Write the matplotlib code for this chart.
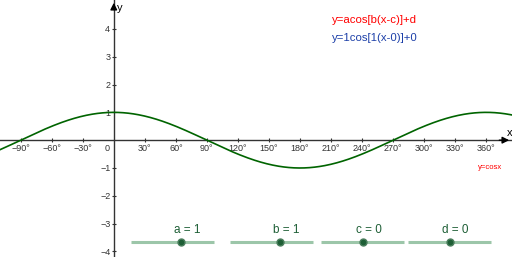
import numpy as np
import matplotlib.pyplot as plt

plt.rcParams['font.family'] = ['Liberation Sans', 'DejaVu Sans']

# parameters of y = a cos[b(x - c)] + d
a, b, c, d = 1, 1, 0, 0
x_ticks = [-90, -60, -30, 30, 60, 90, 120, 150, 180, 210, 240, 270, 300, 330, 360]
y_ticks = [-4, -3, -2, -1, 1, 2, 3, 4]
slider_names = ['a', 'b', 'c', 'd']
slider_values = [a, b, c, d]
slider_pos = [0.6, 0.6, 0.5, 0.5]   # where the knob sits on each slider

fig = plt.figure(figsize=(5.12, 2.57), dpi=100)
ax = fig.add_axes([0, 0, 1, 1])
ax.set_xlim(-110, 385)
ax.set_ylim(-4.2, 5.04)

xs = np.linspace(-110, 385, 600)
ys = a * np.cos(np.radians(b * (xs - c))) + d
ax.plot(xs, ys, color='#006400', lw=1.2, zorder=3)

# axes through the origin
for s in ['top', 'right']:
    ax.spines[s].set_visible(False)
ax.spines['left'].set_position(('data', 0))
ax.spines['bottom'].set_position(('data', 0))
ax.spines['left'].set_color('#333333')
ax.spines['bottom'].set_color('#333333')
ax.spines['left'].set_linewidth(1)
ax.spines['bottom'].set_linewidth(1)
ax.annotate('', xy=(385, 0), xytext=(370, 0),
            arrowprops=dict(arrowstyle='-|>', color='black', lw=1, mutation_scale=10))
ax.annotate('', xy=(0, 5.04), xytext=(0, 4.6),
            arrowprops=dict(arrowstyle='-|>', color='black', lw=1, mutation_scale=10))
ax.text(380, 0.08, 'x', fontsize=8, ha='left', va='bottom')
ax.text(3, 4.75, 'y', fontsize=8, ha='left', va='center')

ax.set_xticks(x_ticks)
ax.set_xticklabels([('\u2212%d°' % -t) if t < 0 else '%d°' % t for t in x_ticks])
ax.set_yticks(y_ticks)
ax.set_yticklabels([('\u2212%d' % -t) if t < 0 else '%d' % t for t in y_ticks])
ax.tick_params(axis='x', direction='inout', length=3, labelsize=6.5, colors='#333333', pad=1)
ax.tick_params(axis='y', direction='inout', length=3, labelsize=6.5, colors='#333333', pad=1)
ax.text(-4, -0.15, '0', fontsize=6.5, color='#333333', ha='right', va='top')

ax.text(211, 4.32, 'y=acos[b(x-c)]+d', color='#ff0000', fontsize=8.2, va='center')
ax.text(211, 3.67, 'y=1cos[1(x%s)]+%d' % ('-%d' % c, d), color='#1c3fa8', fontsize=8.2, va='center')
ax.text(352, -1.0, 'y=cosx', color='#ff0000', fontsize=5.5, va='center')

# sliders
slider_x = [(131, 214), (230, 313), (321, 404), (408, 491)]
for (x0, x1), name, val, p in zip(slider_x, slider_names, slider_values, slider_pos):
    fx0, fx1 = x0 / 512, x1 / 512
    fy = 1 - 242 / 257
    ax.plot([fx0, fx1], [fy, fy], transform=ax.transAxes, color='#9cc6a9', lw=2.2,
            solid_capstyle='butt', zorder=4)
    kx = fx0 + p * (fx1 - fx0)
    ax.plot([kx], [fy], 'o', transform=ax.transAxes, ms=5, color='#1d5e35',
            mec='#4a7d5c', zorder=5)
    ax.text(kx + 0.012, fy + 0.045, '%s = %d' % (name, val), transform=ax.transAxes,
            color='#1d5e35', fontsize=8.5, ha='center', va='center')

fig.savefig('out.png', dpi=100)
